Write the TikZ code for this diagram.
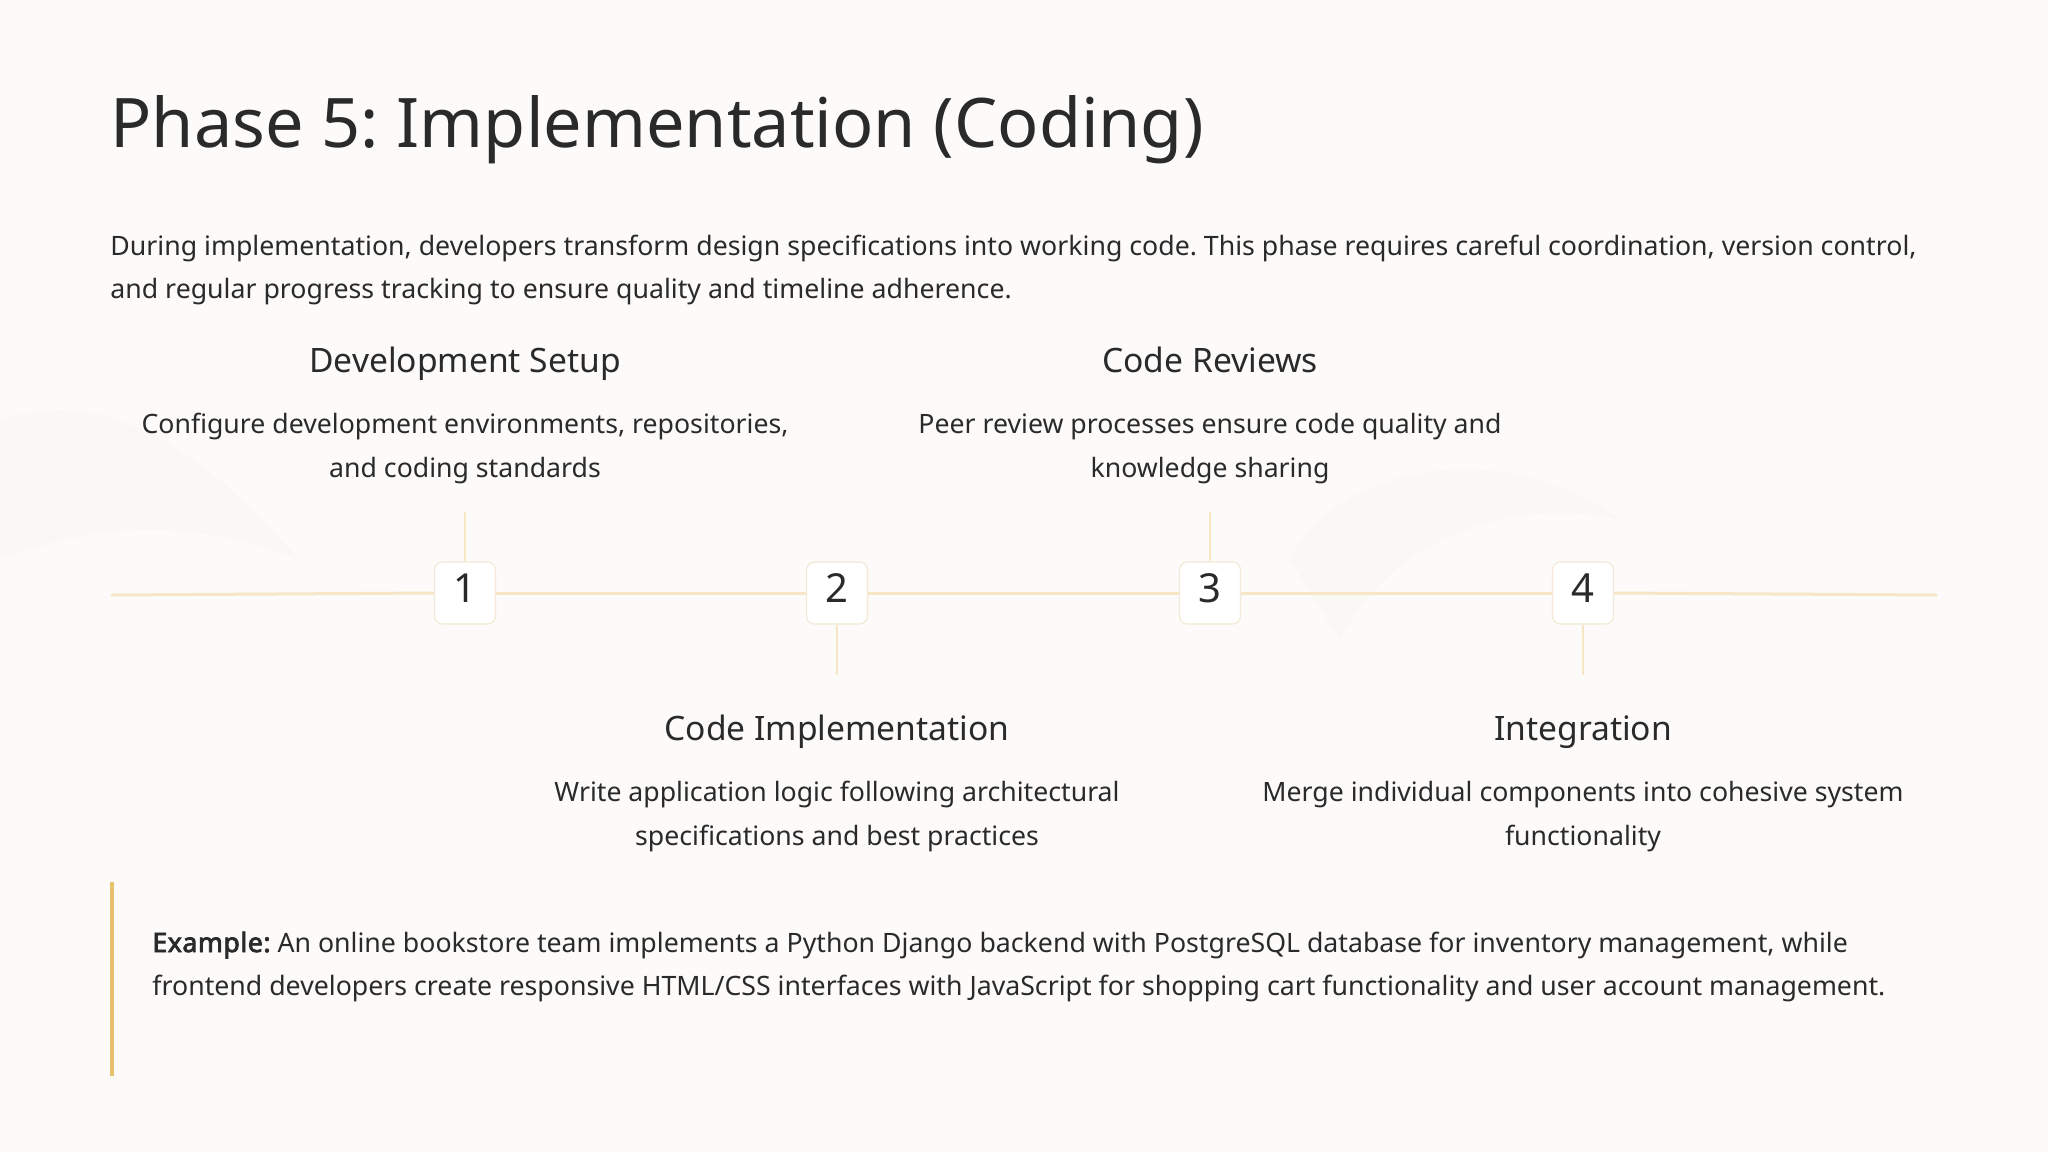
\documentclass[tikz,border=0pt]{standalone}
\usepackage{fontspec}
\setmainfont{Noto Sans}
\newfontfamily\exbold{Noto Sans}[FakeBold=3,LetterSpace=2]
\definecolor{bgc}{HTML}{FCFBF9}
\definecolor{txt}{HTML}{2A2A2A}
\definecolor{linec}{HTML}{F6E6C6}
\definecolor{boxline}{HTML}{F2E9D6}
\definecolor{goldbar}{HTML}{E6C46E}
\definecolor{swirl}{HTML}{EDE6D8}
\tikzset{
  px/.style={x=0.5pt,y=-0.5pt},
  titletxt/.style={anchor=base west,inner sep=0pt,text=txt,font=\fontsize{34.2}{40}\selectfont},
  bodytxt/.style={anchor=base west,inner sep=0pt,text=txt,font=\fontsize{13.35}{21.5}\selectfont},
  headtxt/.style={anchor=base,inner sep=0pt,text=txt,font=\fontsize{16.8}{20}\selectfont},
  desctxt/.style={anchor=base,inner sep=0pt,text=txt,font=\fontsize{13.33}{21.5}\selectfont},
  numbox/.style={draw=boxline,line width=0.6pt,fill=white,rounded corners=4pt,minimum width=30.5pt,minimum height=31pt,inner sep=0pt,text=txt,font=\fontsize{20}{24}\selectfont},
  tline/.style={draw=linec,line width=1.5pt},
  conn/.style={draw=linec,line width=1pt},
}
\begin{document}
\frenchspacing
\begin{tikzpicture}[px]
\fill[bgc] (0,0) rectangle (2048,1152);
\useasboundingbox (0,0) rectangle (2048,1152);
% faint background swirls
\fill[swirl,opacity=0.13] (1290,560) .. controls (1330,470) and (1500,430) .. (1620,520) .. controls (1540,500) and (1400,520) .. (1340,640) -- cycle;
\fill[swirl,opacity=0.1] (0,420) .. controls (120,380) and (220,470) .. (300,560) .. controls (200,520) and (100,520) .. (0,560) -- cycle;

% title and intro
\node[titletxt] (title) at (110,147) {Phase 5: Implementation (Coding)};
\node[bodytxt] (p1) at (110,255) {During implementation, developers transform design specifications into working code. This phase requires careful coordination, version control,};
\node[bodytxt] (p2) at (110,298) {and regular progress tracking to ensure quality and timeline adherence.};

% timeline
\coordinate (L) at (111,595);
\coordinate (R) at (1937,595);
\node[numbox] (b1) at (465,593) {\raisebox{4.5pt}{1}};
\node[numbox] (b2) at (837,593) {\raisebox{4.5pt}{2}};
\node[numbox] (b3) at (1210,593) {\raisebox{4.5pt}{3}};
\node[numbox] (b4) at (1583,593) {\raisebox{4.5pt}{4}};
\draw[tline] (L) -- (b1.west);
\draw[tline] (b1.east) -- (b2.west);
\draw[tline] (b2.east) -- (b3.west);
\draw[tline] (b3.east) -- (b4.west);
\draw[tline] (b4.east) -- (R);

\coordinate (t1) at (465,512);
\coordinate (t2) at (837,675);
\coordinate (t3) at (1210,512);
\coordinate (t4) at (1583,675);
\draw[conn] (b1.north) -- (t1);
\draw[conn] (b2.south) -- (t2);
\draw[conn] (b3.north) -- (t3);
\draw[conn] (b4.south) -- (t4);

% step texts
\node[headtxt] (h1) at (465,372) {Development Setup};
\node[desctxt] (d1a) at (465,433) {Configure development environments, repositories,};
\node[desctxt] (d1b) at (465,477) {and coding standards};

\node[headtxt] (h3) at (1210,372) {Code Reviews};
\node[desctxt] (d3a) at (1210,433) {Peer review processes ensure code quality and};
\node[desctxt] (d3b) at (1210,477) {knowledge sharing};

\node[headtxt] (h2) at (837,740) {Code Implementation};
\node[desctxt] (d2a) at (837,801) {Write application logic following architectural};
\node[desctxt] (d2b) at (837,845) {specifications and best practices};

\node[headtxt] (h4) at (1583,740) {Integration};
\node[desctxt] (d4a) at (1583,801) {Merge individual components into cohesive system};
\node[desctxt] (d4b) at (1583,845) {functionality};

% example
\coordinate (ba) at (112,882);
\coordinate (bb) at (112,1076);
\draw[goldbar,line width=1.6pt] (ba) -- (bb);
\node[bodytxt] (e1) at (152,952) {{\exbold Example:} An online bookstore team implements a Python Django backend with PostgreSQL database for inventory management, while};
\node[bodytxt] (e2) at (152,995) {frontend developers create responsive HTML/CSS interfaces with JavaScript for shopping cart functionality and user account management.};
\end{tikzpicture}
\end{document}
